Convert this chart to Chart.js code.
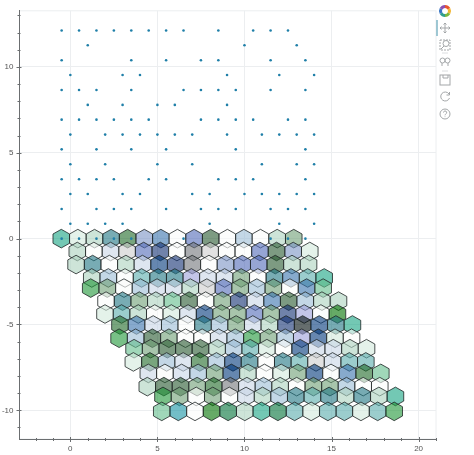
<!DOCTYPE html>
<html>
<head>
<meta charset="utf-8">
<script src="https://cdn.jsdelivr.net/npm/chart.js@4/dist/chart.umd.min.js"></script>
<style>
  html, body { margin: 0; padding: 0; background: #fff; }
  #wrap { position: relative; width: 474px; height: 455px; overflow: hidden; }
  #toolbar { position: absolute; left: 0; top: 0; }
</style>
</head>
<body>
<div id="wrap">
  <canvas id="hexChart" width="474" height="455"></canvas>
  <svg id="toolbar" width="474" height="455" fill="none" stroke="#a3a6a8" stroke-width="1">
    <g stroke-width="3" fill="none">
      <path d="M445 6.5a4.5 4.5 0 0 1 3.9 2.25" stroke="#e8552f"/>
      <path d="M448.9 8.75a4.5 4.5 0 0 1 0 4.5" stroke="#f2b632"/>
      <path d="M448.9 13.25a4.5 4.5 0 0 1 -3.9 2.25" stroke="#7cb83f"/>
      <path d="M445 15.5a4.5 4.5 0 0 1 -3.9 -2.25" stroke="#2f9e8f"/>
      <path d="M441.1 13.25a4.5 4.5 0 0 1 0 -4.5" stroke="#3a76c4"/>
      <path d="M441.1 8.75a4.5 4.5 0 0 1 3.9 -2.25" stroke="#8a4fb0"/>
    </g>
    <path d="M437 20v16" stroke="#7fb6c6" stroke-width="1.5"/>
    <path d="M445 23v10M440 28h10M443.5 24.5l1.5-1.5 1.5 1.5M443.5 31.5l1.5 1.5 1.5-1.5M441.5 26.5l-1.500 1.500 1.500 1.500M448.500 26.500l1.500 1.500-1.500 1.500"/>
    <rect x="440" y="40" width="10" height="10" stroke-dasharray="2 1"/>
    <circle cx="446" cy="43.500" r="3"/>
    <path d="M444 46l-3 3"/>
    <path d="M442 53h6M442 71h6" stroke="#dcdee0"/>
    <circle cx="442.500" cy="60.500" r="2.500"/><circle cx="447.500" cy="60.500" r="2.500"/>
    <path d="M442 63v3M448 63v3"/>
    <rect x="440" y="75" width="10" height="10"/>
    <path d="M443 75v3h5v-3"/>
    <path d="M449 94a4.500 4.500 0 1 0 0.500 4M449.500 92v3h-3"/>
    <circle cx="445" cy="114" r="5"/>
    <path d="M443.500 112.500a1.600 1.600 0 1 1 2.300 1.500c-0.600 0.300-0.800 0.700-0.800 1.300M445 116.500v0.600"/>
  </svg>
</div>
<script>
// hexagon rows: y value and x of the first hexagon
const hexRowY = [0, -0.75, -1.51, -2.29, -2.88, -3.64, -4.39, -5.03, -5.80, -6.41, -7.18, -7.85, -8.62, -9.19, -10.06];
const hexRowStart = [-0.52, 0.40, 0.33, 1.23, 1.17, 2.05, 1.99, 2.85, 2.80, 3.66, 3.62, 4.48, 4.42, 5.32, 5.25];
const hexColumn = [0, 0.95, 1.91, 2.86, 3.81, 4.77, 5.72, 6.67, 7.63, 8.58, 9.54, 10.49, 11.44, 12.40, 13.35];

// tint key of every hexagon, one string per row
const hexTints = [
  "gbctfxkamraiacq",
  "cajumnaouaamrxb",
  "ctacjlnoaxmmrcc",
  "ciahttsjjqatkhg",
  "eqaijjcumqiqakd",
  "atqcdraqnjkricc",
  "bhcabjlqqmqnsav",
  "fkjiatiqjcnpltg",
  "eirqaajieqislba",
  "dqrrrcihbaljjcb",
  "bfijfiltathujhh",
  "jajiqlcabqlakfd",
  "crrqfojicaqqiaa",
  "eqaqajcithtctcg",
  "dwavycgyhbhhbhe"
];

// scatter dots: x values for each y row
const dotRowY = [12.12, 11.26, 10.39, 9.53, 8.66, 7.79, 6.93, 6.06, 5.2, 4.33, 3.46, 2.6, 1.73, 0.87, 0];
const dotRowX = [
  [-0.5, 0.5, 1.5, 2.5, 3.5, 4.5, 5.5, 6.5, 8.5, 10.5, 11.5, 12.5],
  [1, 10, 13],
  [-0.5, 3.5, 5.5, 7.5, 8.5, 11.5, 13.5],
  [0, 3, 4, 9, 12, 14],
  [-0.5, 0.5, 1.5, 3.5, 6.5, 7.5, 8.5, 9.5, 11.5, 13.5],
  [1, 3, 5, 6, 9],
  [-0.5, 0.5, 1.5, 2.5, 3.5, 4.5, 7.5, 8.5, 9.5, 10.5, 12.5, 13.5],
  [0, 2, 3, 4, 5, 6, 7, 9, 11, 12, 13, 14],
  [-0.5, 1.5, 3.5, 5.5, 9.5, 13.5],
  [0, 2, 5, 7, 11, 13, 14],
  [-0.5, 0.5, 1.5, 2.5, 4.5, 5.5, 8.5, 9.5, 10.5, 13.5],
  [0, 1, 3, 4, 7, 8, 10, 11, 12, 13, 14],
  [-0.5, 1.5, 2.5, 3.5, 5.5, 7.5, 8.5, 9.5, 11.5, 12.5, 13.5],
  [0, 1, 2, 3, 8, 12, 14],
  [-0.5, 0.5, 1.5, 2.5, 3.5, 6.5, 11.5, 12.5, 13.5]
];

// how each tint looks on white
const palette = {
  a: [252, 253, 252], b: [228, 242, 234], c: [205, 228, 216], d: [160, 215, 185],
  e: [120, 192, 135], f: [120, 165, 125], g: [115, 200, 180], h: [155, 205, 205],
  i: [195, 215, 230], j: [222, 230, 240], k: [135, 170, 205], l: [90, 135, 175],
  m: [150, 165, 212], n: [112, 130, 170], o: [170, 172, 175], p: [100, 110, 110],
  q: [168, 197, 172], r: [125, 155, 130], s: [195, 197, 232], t: [120, 172, 180],
  u: [225, 225, 225], v: [85, 170, 95], w: [115, 190, 200], x: [175, 190, 220],
  y: [90, 170, 135]
};

const HEX_ALPHA = 0.6;
const HEX_W = 16.6;
const HEX_H = 18.6;

// undo the alpha so a hexagon shows the tint
function hexFill(rgb) {
  const base = rgb.map(v => Math.max(0, Math.round((v - 255 * (1 - HEX_ALPHA)) / HEX_ALPHA)));
  return "rgba(" + base.join(",") + "," + HEX_ALPHA + ")";
}

const hexPoints = [];
const hexFills = [];
hexRowY.forEach((y, r) => {
  hexColumn.forEach((dx, q) => {
    hexPoints.push({ x: hexRowStart[r] + dx, y: y });
    hexFills.push(hexFill(palette[hexTints[r][q]]));
  });
});

const dotPoints = [];
dotRowY.forEach((y, r) => {
  dotRowX[r].forEach(x => dotPoints.push({ x: x, y: y }));
});

const isMajor = v => Math.abs(v % 5) < 1e-6;

// draws the hexagon dataset as paths on the points the scales placed
const hexMarks = {
  id: "hexMarks",
  beforeDatasetDraw(chart, args) {
    if (chart.data.datasets[args.index].label !== "hexagons") return;
    const ctx = chart.ctx, w = HEX_W / 2, h = HEX_H / 2;
    ctx.save();
    ctx.lineWidth = 0.8;
    ctx.strokeStyle = "#1e2424";
    args.meta.data.forEach((pt, i) => {
      ctx.beginPath();
      ctx.moveTo(pt.x, pt.y - h);
      ctx.lineTo(pt.x + w, pt.y - h / 2);
      ctx.lineTo(pt.x + w, pt.y + h / 2);
      ctx.lineTo(pt.x, pt.y + h);
      ctx.lineTo(pt.x - w, pt.y + h / 2);
      ctx.lineTo(pt.x - w, pt.y - h / 2);
      ctx.closePath();
      ctx.fillStyle = hexFills[i];
      ctx.fill();
      ctx.stroke();
    });
    ctx.restore();
    return false;
  }
};

// bokeh style ticks: long across the axis at 5s, short on the outside at 1s
const axisTicks = {
  id: "axisTicks",
  afterDraw(chart) {
    const ctx = chart.ctx, xs = chart.scales.x, ys = chart.scales.y;
    ctx.save();
    ctx.strokeStyle = "#6b6e70";
    ctx.lineWidth = 1;
    ctx.beginPath();
    xs.ticks.forEach(t => {
      const p = Math.round(xs.getPixelForValue(t.value)) + 0.5;
      ctx.moveTo(p, xs.top - (isMajor(t.value) ? 2 : 1));
      ctx.lineTo(p, xs.top + (isMajor(t.value) ? 3 : 2));
    });
    ys.ticks.forEach(t => {
      const p = Math.round(ys.getPixelForValue(t.value)) + 0.5;
      ctx.moveTo(ys.right - (isMajor(t.value) ? 3 : 2), p);
      ctx.lineTo(ys.right + (isMajor(t.value) ? 2 : 1), p);
    });
    ctx.stroke();
    ctx.restore();
  }
};

const gridColor = c => isMajor(c.tick.value) ? "#eceef0" : "rgba(0,0,0,0)";
const tickLabel = v => isMajor(v) ? String(v) : "";

new Chart(document.getElementById("hexChart"), {
  type: "scatter",
  data: {
    datasets: [
      {
        label: "points",
        data: dotPoints,
        pointRadius: 1.3,
        pointBorderWidth: 0,
        pointBackgroundColor: "#1f7fa8"
      },
      {
        label: "hexagons",
        data: hexPoints,
        pointRadius: 9,
        pointBorderWidth: 0
      }
    ]
  },
  options: {
    responsive: false,
    animation: false,
    events: [],
    layout: { padding: { left: 0, right: 38, top: 0, bottom: 0 } },
    plugins: { legend: { display: false }, tooltip: { enabled: false } },
    scales: {
      x: {
        type: "linear",
        min: -2.92,
        max: 21.0,
        afterFit: s => { s.height = 16; },
        border: { color: "#6b6e70", width: 1 },
        grid: { color: gridColor, drawTicks: false },
        ticks: {
          stepSize: 1,
          autoSkip: false,
          includeBounds: false,
          maxRotation: 0,
          padding: 5,
          color: "#555",
          font: { family: "'Liberation Sans'", size: 8 },
          callback: tickLabel
        }
      },
      y: {
        type: "linear",
        min: -11.67,
        max: 13.27,
        afterFit: s => { s.width = 19.5; },
        border: { color: "#6b6e70", width: 1 },
        grid: { color: gridColor, drawTicks: false },
        ticks: {
          stepSize: 1,
          autoSkip: false,
          includeBounds: false,
          padding: 6,
          color: "#555",
          font: { family: "'Liberation Sans'", size: 8 },
          callback: tickLabel
        }
      }
    }
  },
  plugins: [hexMarks, axisTicks, {
    id: "frame",
    beforeDraw(chart) {
      const a = chart.chartArea, ctx = chart.ctx;
      ctx.save();
      ctx.strokeStyle = "#eceef0";
      ctx.lineWidth = 1;
      ctx.strokeRect(a.left, a.top, a.right - a.left, a.bottom - a.top);
      ctx.restore();
    }
  }]
});
</script>
</body>
</html>
